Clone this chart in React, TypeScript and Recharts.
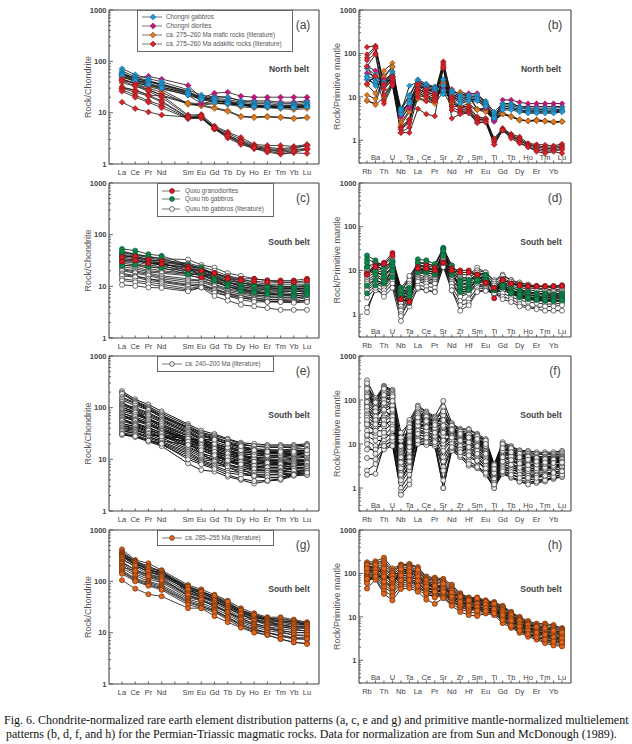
import React from "react";
import { LineChart, Line, XAxis, YAxis } from "recharts";

// ---------- categories ----------
const reeCategories = ["La","Ce","Pr","Nd","Pm","Sm","Eu","Gd","Tb","Dy","Ho","Er","Tm","Yb","Lu"];
const reeElements = ["La","Ce","Pr","Nd","Sm","Eu","Gd","Tb","Dy","Ho","Er","Tm","Yb","Lu"];
const multiElements = ["Rb","Ba","Th","U","Nb","Ta","La","Ce","Pr","Sr","Nd","Zr","Hf","Sm","Eu","Ti","Gd","Tb","Dy","Ho","Er","Tm","Yb","Lu"];
const reeAxisLabel = "Rock/Chondrite";
const multiAxisLabel = "Rock/Primitive mantle";
const reeTicks = [1,2,3,4,5,6,7,8,9,10,20,30,40,50,60,70,80,90,100,200,300,400,500,600,700,800,900,1000];
const multiTicks = [0.3,0.4,0.5,0.6,0.7,0.8,0.9,...reeTicks];
const decades = [1,10,100,1000];

// ---------- panel (a) ----------
const aMafic = [
  [50,40,32,28,15,14,12.5,11,8.5,8.3,8.5,8.2,7.8,8.1],
  [46,37,30,25,14.5,13.5,12,10.5,8.3,8,8.2,8,7.6,8],
  [38,33,28,22,15.5,15,15.5,14.5,13,12.5,12.5,12,11.5,12],
  [30,28,22,21,15,14,15,15,14,13.5,13,13,12,13],
];
const aDiorites = [
  [55,48,51,45,34,19,24,25,21,20,20,20,20,20],
  [50,42,40,36,26,17,21,20,17,17,17,16,16,17],
  [42,38,34,29,22,15,17,16,14,13,13,13,13,14],
];
const aGabbros = [
  [72,55,46,40,28,22,20,20,17,16,16,15,15,16],
  [65,50,42,36,26,20,19,18,16,15,15,14,14,15],
  [60,47,40,34,24,19,18,17,15,14,14,13.5,14,14],
  [58,46,41,35,25,19,17,16,15,14,13,13,13,13],
  [56,44,37,32,23,18,17,16,14.5,14,13.5,13,13,14],
  [54,43,36,31,24,20,18,15,14,13.5,13,12.5,13,13.5],
  [52,41,35,30,22,18,16,15,14,13,13,12.5,12.5,13],
];
const aAdakitic = [
  [45,36,28,22,9,9.2,5.5,4.2,3.3,2.4,2.3,2.3,2.2,2.4],
  [42,33,26,20,8.5,8.8,5.2,4,3,2.3,2.1,2,2.1,2.3],
  [32,27,22,17,8,8.2,5,3.7,2.8,2.2,2,1.9,2,2.3],
  [30,25,21,16,8,8,4.8,3.5,2.6,2.1,1.9,1.8,1.9,2],
  [28,22,17,14,7.8,8,4.8,3.4,2.5,2,1.8,1.6,1.7,1.9],
  [26,20,16,12.5,7.6,7.8,4.8,3.2,2.4,2,1.7,1.55,1.65,1.6],
  [16,12,10.3,9,8.2,8.5,5,3.6,2.7,2.1,1.9,1.7,1.8,2],
];

// ---------- panel (b) ----------
const bMafic = [
  [19,12,40,60,3.5,8,14,11,9,22,9,13,11.5,5.2,5.5,3.2,4.2,3.6,3,2.8,3,2.8,2.6,2.7],
  [11,9,30,50,3,6,12,10,8,20,8,12,10,5.2,5,3,4.2,3.5,2.9,2.8,2.9,2.8,2.6,2.7],
  [8,7,28,48,2.5,5,11,9.5,7.5,18,7,6,7,5,5,2.8,4,3.5,2.9,2.8,2.8,2.7,2.6,2.7],
  [8.5,6.5,10,20,2.2,4.5,9,8,7,13,6,6,6,5,4.5,3,4,3.5,3,2.8,2.8,2.8,2.7,2.7],
];
const bDiorites = [
  [50,40,25,30,4.5,7,22,18,17,17,15,11,12,12,7,3,8.5,8.5,7.5,7,7,7,7,7],
  [35,30,20,25,4,6,18,15,14,14,12,9,10,10,6,2.8,7,7,6,6,6,6,6,6],
  [25,25,18,22,3.5,5.5,15,13,11.5,15,10,8,9,8.5,5.5,2.7,5.2,5.5,4.8,4.5,4.5,4.5,4.5,4.6],
];
const bGabbros = [
  [45,32,22,38,5.5,11,25,20,17,25,14,11,11,11,8,4.5,7,7,6,5.5,5.5,5.5,5.5,5.7],
  [30,25,20,35,5,10,24,18,16,18,13,10,10,10,7.5,4,6.5,6.5,5.5,5.2,5.2,5,5,5.2],
  [25,20,18,30,4.5,18,22,17,15,12,12,9,9,9,7,3.5,6,6,5,4.8,4.8,4.7,4.7,5],
  [50,22,17,28,4,8,20,16,14,14,11,8,8,9,6.5,3.5,5.5,5.5,5,4.5,4.5,4.5,4.5,4.6],
  [28,18,22,25,5,7,18,15,13,11.5,10,7,8,8,6,3.2,5,5,4.5,4.2,4.2,4.2,4.2,4.5],
];
const bAdakitic = [
  [140,150,20,30,2,3,20,15,12,65,10,5.5,6,3.5,3.2,1.1,1.9,1.4,1.2,0.85,0.8,0.78,0.75,0.82],
  [95,140,18,28,2,3,18,13,11,60,9,5,5.5,3.2,3,1,1.8,1.3,1.1,0.8,0.75,0.7,0.7,0.75],
  [80,130,15,25,1.8,2.8,15,12,10,55,8,5,5,3,3,1,1.8,1.3,1,0.8,0.7,0.65,0.65,0.7],
  [70,100,11,22,1.8,2.5,13,10,9,50,6,4.5,4.8,2.8,2.8,0.9,1.7,1.2,1,0.75,0.65,0.6,0.6,0.65],
  [50,95,8,20,1.5,2,10,8,8,45,5,4.2,4.5,2.6,2.6,0.8,1.7,1.2,0.9,0.7,0.6,0.55,0.58,0.6],
  [20,30,7,18,1.5,1.5,5.3,4,3.6,48,3.2,4,4.2,2.5,2.6,0.8,1.7,1.1,0.85,0.7,0.55,0.5,0.55,0.5],
];

// ---------- panel (c) ----------
const cLiterature = [
  [48,42,38,34,33,26,23,18,16,14,13,12,12,12],
  [45,40,36,32,28,24,20,16,14,12,11,11,11,11],
  [42,38,33,30,27,21,18,14,12,10.5,10,9.5,9.5,10],
  [40,36,32,28,26,22,18,15,13,11,10,10,10,10.5],
  [37,34,29,27,23,19,15,12,11,9.5,9,9,9,9],
  [35,32,28,26,24,20,16,13,12,10,9.5,9,9,9.5],
  [32,30,26,24,21,18,15,12,10,9,8.8,8.2,8,8.5],
  [30,28,24,22,20,17,14,12,10,9,8.5,8.5,8.5,9],
  [28,26,22,20,18,16,13,11,9,8,7.5,7.5,8,8],
  [26,24,20,19,17,14,12,10,8.5,7.8,7.2,7,7.2,7.5],
  [24,22,19,18,16,15,12,10,8.5,7.5,7,7,7,7.5],
  [22,20,18,16,14,13,11,9,8,7,6.5,6.5,6.5,7],
  [21,19,17,15,13,13,10.5,8.5,7.5,6.8,6.4,6,6,6.2],
  [20,18,16,14,12,12,10,8,7,6.5,6,6,6,6.5],
  [18,16,14,13,11,11,9,7.5,6.5,6,5.5,5.5,5.5,6],
  [17,15.5,14,12.5,10.5,10,8.8,7.2,6.4,5.8,5.6,5.4,5.2,5.4],
  [16,15,13,12,10,11,8.5,7,6,5.5,5.2,5,5,5.5],
  [14,13,12,11,9,10,8,6.5,6,5.5,5,5,5,5],
  [13,12,11,10,8.5,9.5,7.5,6.5,5.5,5,5,5,4.8,5],
  [10.7,10.2,9.5,9.3,8,9.5,6.5,5.3,4.4,4.1,3.8,3.5,3.5,3.5],
];
const cGabbros = [
  [53,49,42,39,26,23,17,13,11.5,11,10.5,10,10,10],
  [46,42,37,35,24,22,16,12,10.5,10,9.5,9,9,9],
  [40,36,30,28,20,20,14,11,9.5,8.5,8,8,8,8],
  [33,32,28,26,18,18,13,10,9,8,7.5,7,7,7.5],
  [25,26,24,23,17,17,13,10,8,7.5,7,6.8,6.5,6.8],
];
const cGranodiorites = [
  [37,38,33,31,24,15,18,15,14,14,13,13,13,14],
  [30,32,28,27,22,20,18,14,13,12.5,12,12,12,13],
];

// ---------- panel (d) ----------
const dLiterature = [
  [12,15,13,20,4,7,15,14,13,30,13,8,8,11.5,9,6,8,6,5.3,4.8,4.4,4.2,4,4.2],
  [11,9,8,12,2.5,2.5,10,9,8,15,8,5,5,9,8,4,5,4,3.5,3,3,2.8,2.7,2.8],
  [10,12,11,17,3.5,6,14,12,10,26,11,7,6.5,10,9,5.5,7.5,6,4.8,4.4,4,3.8,3.6,3.8],
  [9,11,10,16,3,7.5,13,12,10,22,10,6.5,7,9,8,5,6.5,5.5,4.5,4,3.8,3.6,3.5,3.6],
  [8,10,9,15,2.8,5,11,10,9,25,9,6,6,8,7,4.5,6,5,4.2,3.6,3.4,3.2,3.2,3.3],
  [7,9,7.5,11,2.2,4.5,9,8,7,20,7,5,5.2,7,6.5,4,5.5,4.5,3.8,3.2,3,2.9,2.9,3],
  [6,8,6.5,10,2,4,8,7,6.5,18,6,4,4.5,6,5.5,3.5,4.5,3.6,3,2.8,2.6,2.5,2.5,2.6],
  [5.5,7,6,9,1.8,3.5,7,6.5,6,17,6,3.5,4,5.5,5,3.3,4.2,3.4,2.9,2.5,2.4,2.4,2.3,2.4],
  [5,6,5,8,1.5,3,6.5,6,5.5,16,5.5,3,3.5,5,4.5,3,4,3.2,2.7,2.4,2.3,2.2,2.2,2.3],
  [4,5.5,4.5,7.5,1.3,2.8,6,5.5,5,15,5,2.8,3.2,4.8,4.2,3,3.8,3,2.5,2.3,2.1,2.1,2,2.1],
  [3.5,5,4,7,1.2,2.5,5.5,5,5,14,5,2.5,3,4.5,4,3,3.5,2.9,2.4,2.2,2,2,1.9,2],
  [2.4,4,3.5,6,1,2.2,4.5,4.3,4,14,4.2,2,2.2,4,3.8,2.8,3,2.5,2.1,1.9,1.8,1.7,1.7,1.8],
  [1.4,3.5,3,5,0.9,2,3.8,3.5,3.3,13,3.5,1.6,1.8,3.5,3.5,3,2.5,2.2,1.7,1.5,1.4,1.5,1.5,1.6],
  [1.1,4,2.5,4,0.7,1.5,4,3.5,3.2,12,3.5,1.2,1.6,3.2,3.4,3,2.2,1.9,1.5,1.4,1.3,1.2,1.2,1.2],
];
const dGabbros = [
  [22,17,12,16,4,4,18,17,14,33,13,6,6,8,8,4,5.5,4,3.5,3.3,3,3,2.8,3],
  [18,15,9,14,3.5,3.5,15,15,12,32,10,5.5,6,7,7,3.5,5,3.5,3.2,3,2.8,2.7,2.6,2.8],
  [15,10,7,12,3,3,12,12,10,25,9,4.5,5,6,6,3.5,4.5,3.2,3,2.8,2.5,2.4,2.4,2.5],
  [12,8,5.2,10,2.5,2.5,10,10,9,22,8,4,4.2,5.5,5.5,3.8,4.2,3,2.6,2.5,2.3,2.2,2.2,2.3],
  [4.5,6,5,10,3,1.8,9,9,8,30,9,3.5,3.8,6,7.5,4,4,3.2,2.4,2.2,2.1,2,2,2.1],
  [3,4.5,5.5,7,3.5,3,11,10,9,28,11,3.2,3.5,6,6,4,4.5,3,2.8,2.4,2.2,2.1,2,2.1],
];
const dGranodiorites = [
  [8.5,13,15,25,2.2,2,12,13,11.5,15,11,10,10,8,5.2,2.3,6.2,5,4.8,4.5,4.4,4.4,4.4,4.6],
  [8,12,14,22,2.2,1.9,11,11,10,15,10,9,9,8,5.2,4,6,5,4.5,4.3,4.3,4.3,4.3,4.4],
];

// ---------- panel (e) ----------
const eLiterature = [
  [210,145,115,85,48,36,31,25,21,20,19,19,19,20],
  [195,135,105,78,45,33,29,24,20,18,18,18,18,19],
  [185,130,100,72,42,32,27,22,19,18,17,17,17,18],
  [160,125,95,70,40,30,26,21,18,16,15.5,15,16,16],
  [150,120,92,66,41,29,25,19,16,15,14,14,14.5,15],
  [140,110,90,65,38,28,24,20,17,15,15,15,15,15],
  [130,88,60,42,21,13,11,8,6.5,5,5,5.2,5.5,6.5],
  [120,100,80,60,36,26,22,18,15,14,13.5,13.5,14,14],
  [115,95,76,58,33,24,19,15,12,11,10.5,11,12,13],
  [110,90,72,55,34,25,20,17,14,13,13,13,13,14],
  [105,78,60,47,28,20,15,12,10,8.5,8,8,8.5,9.5],
  [100,85,68,52,32,24,20,16,14,13,12,12,12.5,13],
  [95,75,58,44,25,17,13,10,8,7,6.8,7,7.5,8],
  [90,80,62,48,30,22,18,15,13,12,11.5,11.5,12,12],
  [85,72,58,44,28,20,17,14,12,11,11,11,11,11.5],
  [80,62,50,38,22,15,12,9,7.5,6,6,6,6.5,7],
  [78,66,54,40,26,19,16,13,11.5,10.5,10,10,10.5,11],
  [75,52,38,30,17,13,9,7,5.5,4.6,4.4,4.4,5.4,5.8],
  [72,60,50,38,24,18,15,12,11,10,9.5,9.5,10,10],
  [68,58,48,36,26,21,18,15,13,12,12,12,12.5,13],
  [66,55,46,35,22,17,14,12,10,9.5,9,9,9.5,9.5],
  [64,44,33,27,22,21,17,14,12,10,9,8.5,8,8.2],
  [60,50,42,32,20,16,13,11,9.5,9,8.5,8.5,9,9],
  [58,48,40,33,27,22,20,17,15,14,14,13,13,13],
  [55,46,38,30,19,15,12,10,9,8.5,8,8,8.5,8.5],
  [50,42,35,28,18,13,11,9.5,8.5,8,7.5,7.5,8,8],
  [48,44,36,31,24,19,16,13,11,9,8.6,8,8,8.5],
  [46,40,32,26,16,12,10,9,8,7.5,7,7,7.5,7.5],
  [45,38,30,28,25,24,24,20,18,15,14,14,14,15],
  [42,37,30,24,15,11,9.5,8,7,6.5,6.5,6.5,7,7],
  [40,36,31,27,22,17,14,11,9,7.5,7,6.8,6.6,7],
  [38,34,28,22,14,10,9,7.5,6.5,6,6,6,6.5,6.5],
  [36,32,27,23,19,15,12,9.5,8,6.5,6,5.8,5.8,6],
  [35,32,26,21,13,9.5,8,7,6,5.5,5.5,5.5,6,6],
  [32,30,24,20,12,9,7.5,6,5.5,5,5,5,5.2,5.5],
  [30,28,23,19,11,8.5,7,5.5,5,4.8,4.5,4.5,5,5],
  [30,27,22,18,8.3,6.2,5.8,4.6,4,3.4,3.8,4,4.8,5],
  [31,28,23,20,10,8,6.5,5,4.2,3.8,3.9,4.2,5,5.5],
];

// ---------- panel (f) ----------
const fLiterature = [
  [280,110,210,170,12,35,75,55,42,95,30,22,22,17,13,3.5,11,9,7.2,7,6.5,6.5,6.5,7],
  [220,100,200,160,18,30,70,52,40,60,28,21,21,16,12,3.2,10,8.5,7,6.5,6,6,6,6.5],
  [200,95,190,150,8,28,62,48,38,50,26,20,18,15,11,3,9,8,6.5,6,5.8,5.8,5.6,6],
  [160,85,170,140,7,24,55,45,35,40,24,18,17,14,10,2.8,8.5,7.5,6,5.5,5.2,5.2,5.2,5.5],
  [145,78,150,125,6.5,21,50,42,33,36,23,17,16,13.5,9.5,2.7,8,7,5.6,5.2,5,5,5,5.2],
  [130,70,120,130,6,20,48,40,32,32,22,16,15,13,9,2.6,8,7,5.5,5,4.8,4.8,4.8,5],
  [115,65,105,115,5.5,19,45,38,30,28,21,15.5,14.5,12.5,8.5,2.5,7.5,6.5,5.2,4.8,4.6,4.6,4.6,4.8],
  [100,60,95,110,5,18,42,36,28,25,20,15,14,12,8,2.4,7,6,5,4.5,4.4,4.4,4.5,4.6],
  [90,56,80,100,4.8,16,40,34,27,22,19,14.5,13.5,11.5,7.5,2.3,6.8,5.8,4.8,4.4,4.2,4.2,4.3,4.4],
  [80,52,70,90,4.5,15,38,32,26,20,18,14,13,11,7,2.2,6.5,5.5,4.5,4.2,4,4,4.2,4.2],
  [72,48,62,80,4.2,13,36,30,25,18,17,13.5,12.5,10.5,6.8,2.1,6.2,5.2,4.2,4,3.8,3.8,4,4],
  [65,45,55,70,4,12,34,28,24,16,16,13,12,10,6.5,2,6,5,4,3.8,3.6,3.7,3.8,3.8],
  [50,38,40,55,3.5,10,30,26,22,12,15,12,11,9,6,1.9,5.5,4.5,3.7,3.4,3.3,3.3,3.4,3.5],
  [45,34,36,50,3.2,9,28,25,21,11,14.5,11.5,10.5,8.5,5.8,1.85,5.2,4.2,3.5,3.2,3.1,3.1,3.2,3.4],
  [40,30,32,45,3,8,26,24,20,10,14,11,10,8,5.5,1.8,5,4,3.4,3,3,3,3.1,3.2],
  [32,25,25,38,2.8,7,24,21,18,8,13,10,9,7.5,5,1.7,4.5,3.6,3,2.8,2.7,2.7,2.8,3],
  [26,20,20,30,2.5,6,21,19,16,7,12,9,8,7,4.5,1.6,4,3.3,2.7,2.5,2.4,2.5,2.6,2.7],
  [20,15,15,25,2.2,5,18,17,15,5,11,8.5,7.5,6,4,1.5,3.6,3,2.4,2.2,2.2,2.2,2.3,2.4],
  [15,12,12,20,2,4,16,15,13,4,10,8,7,5.5,3.5,1.4,3.2,2.7,2.2,2,2,2,2.1,2.2],
  [12,9,10,15,1.6,3.5,14,13,12,3,9,7,6,5,3,1.3,2.8,2.4,2,1.8,1.8,1.8,1.9,2],
  [7.5,7.5,9,12,1.3,2.5,13,12,11,2.5,8,6,5,4,2.6,1.2,2.5,2.1,1.7,1.6,1.5,1.6,1.7,1.8],
  [4.8,4.5,8,10,1,2,11,10,10,1.5,7.5,5.5,4,3.2,2.2,1.1,2.2,1.8,1.5,1.4,1.4,1.5,1.6,1.8],
  [2.5,3.5,7.5,9,0.8,1.5,10,9.5,9,1,7,5,3.2,2.8,2,1,2.1,1.7,1.4,1.3,1.3,1.4,1.7,1.8],
  [2,2.1,9,12,0.7,1.2,12,11,10,1,8,5.5,3.5,3,2.2,1,2.3,1.8,1.4,1.2,1.4,1.5,1.8,2],
  [90,90,60,40,14,20,50,42,30,70,26,17,16,13,9,3,8,7,5.5,5,4.5,4.2,4.1,4.3],
  [240,65,150,110,9,24,45,35,24,30,15,11,10,7,4,1.5,3.5,3,2.6,2.5,2.6,2.8,3.1,3.3],
  [180,55,100,75,3.2,9,22,17,13,15,9,8,7,5,3,1.2,3,2.6,2.4,2.4,2.5,2.7,3,3.2],
  [35,18,35,22,5,11,35,30,26,45,22,19,16,15,12,3.3,10,8,6,5.2,4.8,4.5,4.4,4.5],
  [10,6,18,14,1.8,3,28,25,23,55,20,16,14,12,9,2.2,7,5.2,4,3.5,3.2,3,3,3.1],
  [120,88,180,120,2.8,7,26,20,15,24,12,9,8.5,6,4,1.4,4,3.4,2.9,2.7,2.8,2.9,3.2,3.6],
  [60,42,130,95,2.2,5,32,24,18,18,14,12,11,9,6,1.6,5,4.3,3.6,3.3,3.4,3.5,3.7,4],
  [28,35,85,60,2,4,20,16,12,35,10,7.5,6.5,4.5,3.2,1.3,2.7,2.3,2,1.9,1.9,2,2.3,2.5],
  [16,20,60,42,1.5,3,17,14,11,12,8.5,6.5,5.5,4.2,2.8,1.2,2.4,2,1.7,1.7,1.7,1.9,2.2,2.4],
  [70,28,28,35,3.8,8.5,40,33,27,26,21,17,14,13,10,2.7,8,6.5,5,4.4,4,3.8,3.7,3.8],
];

// ---------- panel (g) ----------
const gLiterature = [
  [420,260,225,165,85,70,55,42,30,24,20,20,18,16],
  [380,250,180,155,80,65,50,38,28,22,19,18,17,15.5],
  [360,245,200,150,78,64,50,37,27,23,19,17,16,15],
  [350,240,190,160,60,50,40,32,25,20,19,19,17,14],
  [340,235,170,145,75,60,48,36,26,21,18,17,16,15],
  [330,225,165,150,70,60,46,34,26,20,18,16,15,14],
  [320,220,165,140,72,58,46,35,25,20,17,16,15,14.5],
  [310,225,175,135,78,62,52,40,27,22,17,14,13,12.5],
  [305,205,155,135,66,52,42,31,23,18,16,14,13,13],
  [300,210,150,130,68,55,44,33,24,19,16,15,14,14],
  [280,190,140,120,62,50,40,30,22,18,15,14,13,13],
  [260,200,155,125,70,52,42,30,23,17,15,13,12,10.5],
  [240,170,130,110,58,48,38,28,20,17,14,13,12,12],
  [230,165,135,115,52,42,34,25,19,15,13,11,10,10],
  [220,150,120,100,52,45,35,26,19,15,13,12,11,11],
  [200,140,110,95,48,42,33,24,17,14,12,11,10,10],
  [190,160,125,105,55,44,32,25,18,14,12,10.5,9,8.5],
  [180,130,100,85,45,38,30,22,16,13,11,10,9,9],
  [165,115,95,80,42,35,28,20,15,12,10,9,8,8],
  [155,110,90,75,40,33,26,19,14,11.5,10,8.8,7.8,7.4],
  [150,105,85,72,38,32,27,20,14,11,10,8.5,7.5,7.5],
  [140,100,82,68,35,30,25,18,13,10.5,9,7.5,6.5,6.2],
  [105,72,56,51,30,30,21,16,12.5,10,9,7.5,6.5,6],
];

// ---------- panel (h) ----------
const hLiterature = [
  [180,190,230,130,160,165,140,85,80,75,55,35,28,28,24,22,18,13,10,8,7,7,6.5,5.5],
  [165,175,200,115,155,160,130,80,75,70,50,33,27,26,23,21,17,12.5,9.5,7.5,6.5,6.5,6,5.3],
  [150,165,180,105,150,150,115,75,70,65,45,32,26,25,22,20,16,12,9,7,6.2,6,5.5,5],
  [140,150,160,95,130,140,105,70,65,60,42,30,25,24,21,19,15,11,8.5,6.8,6,5.6,5.2,4.8],
  [125,140,140,85,115,125,95,65,60,55,38,28,24,23,20,18,14,10.5,8,6.4,5.6,5.2,4.8,4.5],
  [115,130,120,78,105,115,88,60,55,50,35,27,23,22,19,17,13,10,7.5,6,5.2,4.9,4.5,4.2],
  [105,120,105,70,95,105,80,55,50,46,33,25,22,21,18,16,12,9.5,7,5.6,5,4.6,4.2,4],
  [100,110,90,62,85,95,75,52,46,42,30,24,20,20,17,15,11.5,9,6.6,5.3,4.7,4.3,3.9,3.7],
  [95,100,80,55,78,85,70,48,42,40,28,23,19,18,16,14.5,11,8.5,6.2,5,4.5,4,3.6,3.4],
  [90,95,70,50,72,78,62,45,40,36,26,21,18,17,15,14,10.5,8,5.8,4.7,4.2,3.7,3.3,3.1],
  [85,90,62,45,65,72,56,42,36,33,25,20,17,16,14.5,13.5,10,7.5,5.5,4.5,4,3.4,3,2.9],
  [80,85,55,40,60,65,50,40,34,32,23,18,16,15,14,13,9.5,7,5.2,4.2,3.7,3.1,2.8,2.7],
  [72,80,48,36,55,58,46,36,32,30,22,17,15,14,13,12.5,9,6.5,5,4,3.5,2.9,2.6,2.5],
  [70,75,40,30,50,52,42,32,30,28,20,15,13,12,12.5,12,8,6,4.6,3.8,3.2,2.7,2.4,2.3],
  [45,72,34,24,44,46,38,25,20,27,18,13,11,10.5,12,11,7.2,5.6,4.3,3.5,3,2.5,2.2,2.1],
  [120,155,110,60,120,130,100,60,44,35,24,17,14,15,15,14,10,8,6.3,5.4,5,4.8,4.2,3.8],
  [155,120,75,100,100,78,60,40,36,45,32,22,20,19,18,17,13,9.8,7.4,5.8,4.7,3.6,3.1,2.8],
  [60,100,130,90,140,100,120,70,48,52,40,26,22,27,22,20,14,11,8.2,6.6,5.9,5.5,4.8,4.4],
  [110,125,95,68,90,110,85,58,52,44,36,29,24,20,19,16,12.5,9.2,6.8,5.5,4.6,4.1,3.5,3],
  [130,105,65,48,125,90,68,50,38,38,27,19,16,17,16,15,11,8.2,6,4.8,4.3,3.9,3.4,3.2],
  [75,85,85,75,70,70,52,35,28,58,29,22,18,14,13.5,12,8.5,6.3,4.8,4,3.4,3,2.7,2.6],
];

// ---------- legends and notes ----------
const aLegendNames = ["Chongni gabbros","Chongni diorites","ca. 275–260 Ma mafic rocks (literature)","ca. 275–260 Ma adakitic rocks (literature)"];
const cLegendNames = ["Quxu granodiorites","Quxu hb gabbros","Quxu hb gabbros (literature)"];
const eLegendNames = ["ca. 240–200 Ma (literature)"];
const gLegendNames = ["ca. 285–255 Ma (literature)"];
const caption1 = "Fig. 6. Chondrite-normalized rare earth element distribution patterns (a, c, e and g) and primitive mantle-normalized multielement";
const caption2 = "patterns (b, d, f, and h) for the Permian-Triassic magmatic rocks. Data for normalization are from Sun and McDonough (1989).";

// ---------- styles ----------
const SANS = "'Liberation Sans', Arial, sans-serif";
const AXIS = "#444444";
const BLUE = { fill: "#1f9bd7", stroke: "#17607f", shape: "diamond" };
const MAGENTA = { fill: "#c9157c", stroke: "#7d1150", shape: "diamond" };
const AMBER = { fill: "#e07a1f", stroke: "#7a4412", shape: "diamond" };
const RED = { fill: "#d8232a", stroke: "#7c1518", shape: "diamond" };
const CRIMSON = { fill: "#e2171f", stroke: "#6a0f12", shape: "circle" };
const GREEN = { fill: "#0c8a4a", stroke: "#0b5a33", shape: "circle" };
const WHITE = { fill: "#ffffff", stroke: "#333333", shape: "circle" };
const PALE = { fill: "#ececec", stroke: "#3a3a3a", shape: "circle" };
const ORANGE = { fill: "#e5631a", stroke: "#6a3310", shape: "circle" };

type Look = { fill: string; stroke: string; shape: string };
type Group = { rows: number[][]; look: Look };

function buildTable(cats: string[], elements: string[], groups: Group[]) {
  const flat = groups.flatMap((g) => g.rows);
  return cats.map((c) => {
    const row: Record<string, any> = { el: c };
    const i = elements.indexOf(c);
    if (i >= 0) flat.forEach((vals, k) => { row[`s${k}`] = vals[i]; });
    return row;
  });
}

function Marker({ cx, cy, look, r }: any) {
  if (cx == null || cy == null) return <g />;
  if (look.shape === "diamond") {
    const d = r + 0.6;
    return <path d={`M${cx} ${cy - d}L${cx + d} ${cy}L${cx} ${cy + d}L${cx - d} ${cy}Z`} fill={look.fill} stroke={look.stroke} strokeWidth={0.5} />;
  }
  return <circle cx={cx} cy={cy} r={r} fill={look.fill} stroke={look.stroke} strokeWidth={0.7} />;
}

const LEFT_PAD = 40, TOP_PAD = 4, RIGHT_PAD = 4, BOTTOM_PAD = 18;

function Panel({ box, kind, groups, r, lineW }: any) {
  const ree = kind === "ree";
  const cats = ree ? reeCategories : multiElements;
  const elements = ree ? reeElements : multiElements;
  const data = buildTable(cats, elements, groups);
  const w = box.right - box.left, h = box.bottom - box.top;
  const pad = ree ? { left: 13, right: 12 } : { left: 8, right: 9 };
  let k = 0;
  const lines: any[] = [];
  groups.forEach((g: Group) => {
    g.rows.forEach(() => {
      const key = `s${k++}`;
      lines.push(
        <Line key={key} dataKey={key} stroke="#111" strokeWidth={lineW} connectNulls isAnimationActive={false}
          legendType="none"
          dot={(p: any) => <Marker key={`${key}-${p.index}`} cx={p.cx} cy={p.cy} look={g.look} r={r} />} />
      );
    });
  });
  const xTick = ({ x, y, index, payload }: any) => {
    const label = payload.value === "Pm" ? "" : payload.value;
    const upper = !ree && index % 2 === 1;
    return (
      <g>
        <line x1={x} x2={x} y1={y} y2={y - 2.5} stroke={AXIS} strokeWidth={0.8} />
        <text x={x} y={ree ? y + 10.5 : upper ? y - 3 : y + 10.5} textAnchor="middle" fontSize={7.5} fontFamily={SANS} fill="#444">{label}</text>
      </g>
    );
  };
  const yTick = ({ x, y, payload }: any) => {
    const major = decades.includes(payload.value);
    return (
      <g>
        <line x1={x} x2={x + (major ? 4 : 2)} y1={y} y2={y} stroke={AXIS} strokeWidth={0.8} />
        {major && <text x={x - 2.5} y={y + 2.7} textAnchor="end" fontSize={7.5} fontWeight={700} fontFamily={SANS} fill="#444">{payload.value}</text>}
      </g>
    );
  };
  return (
    <div style={{ position: "absolute", left: box.left - LEFT_PAD, top: box.top - TOP_PAD }}>
      <LineChart width={w + LEFT_PAD + RIGHT_PAD} height={h + TOP_PAD + BOTTOM_PAD} data={data}
        margin={{ top: TOP_PAD - 1, right: RIGHT_PAD - 1, bottom: BOTTOM_PAD - 1, left: 0 }}>
        <XAxis dataKey="el" height={1} interval={0} padding={pad} tickSize={0} tickMargin={0} tickLine={false}
          tick={xTick} stroke={AXIS} strokeWidth={1.1} />
        <XAxis xAxisId="top" orientation="top" dataKey="el" height={1} tick={false} tickLine={false} stroke={AXIS} strokeWidth={1.1} />
        <YAxis width={LEFT_PAD} scale="log" type="number" domain={ree ? [1, 1000] : [0.3, 1000]} allowDataOverflow
          ticks={ree ? reeTicks : multiTicks} interval={0} tickSize={0} tickMargin={0} tickLine={false} tick={yTick} stroke={AXIS} strokeWidth={1.1}
          label={{ value: ree ? reeAxisLabel : multiAxisLabel, angle: -90, position: "center", dx: ree ? -1 : -2, style: { fontSize: 9, fontFamily: SANS, fill: "#555", textAnchor: "middle" } }} />
        <YAxis yAxisId="right" orientation="right" width={1} scale="log" type="number" domain={[1, 1000]} tick={false} tickLine={false} stroke={AXIS} strokeWidth={1.1} />
        {lines}
      </LineChart>
    </div>
  );
}

function LegendBox({ box, names, looks, rowYs, line, textX }: any) {
  return (
    <svg style={{ position: "absolute", left: box.left, top: box.top }} width={box.width} height={box.height}>
      <rect x={0.5} y={0.5} width={box.width - 1} height={box.height - 1} fill="#fff" stroke="#666" strokeWidth={1} />
      {names.map((n: string, i: number) => (
        <g key={n}>
          <line x1={line[0]} x2={line[1]} y1={rowYs[i]} y2={rowYs[i]} stroke="#555" strokeWidth={0.8} />
          <Marker cx={line[2]} cy={rowYs[i]} look={looks[i]} r={2.4} />
          <text x={textX} y={rowYs[i] + 2.2} fontSize={6.3} fontFamily={SANS} fill="#555">{n}</text>
        </g>
      ))}
    </svg>
  );
}

function Note({ x, y, size, bold, color, children }: any) {
  return (
    <div style={{ position: "absolute", left: x, top: y, transform: "translate(-50%,-50%)", fontFamily: SANS, fontSize: size, fontWeight: bold ? 700 : 400, color, lineHeight: 1, whiteSpace: "nowrap" }}>{children}</div>
  );
}

const panels = [
  { id: "(a)", belt: "North belt", kind: "ree", r: 2.4, lineW: 0.8, box: { left: 109, right: 319, top: 10, bottom: 164 }, groups: [{ rows: aMafic, look: AMBER }, { rows: aDiorites, look: MAGENTA }, { rows: aGabbros, look: BLUE }, { rows: aAdakitic, look: RED }] },
  { id: "(b)", belt: "North belt", kind: "multi", r: 2.2, lineW: 0.9, box: { left: 359, right: 571, top: 10, bottom: 163 }, groups: [{ rows: bMafic, look: AMBER }, { rows: bDiorites, look: MAGENTA }, { rows: bGabbros, look: BLUE }, { rows: bAdakitic, look: RED }] },
  { id: "(c)", belt: "South belt", kind: "ree", r: 2.5, lineW: 0.8, box: { left: 109, right: 319, top: 183, bottom: 338 }, groups: [{ rows: cLiterature, look: WHITE }, { rows: cGabbros, look: GREEN }, { rows: cGranodiorites, look: CRIMSON }] },
  { id: "(d)", belt: "South belt", kind: "multi", r: 2.5, lineW: 0.9, box: { left: 359, right: 571, top: 183, bottom: 337 }, groups: [{ rows: dLiterature, look: WHITE }, { rows: dGabbros, look: GREEN }, { rows: dGranodiorites, look: CRIMSON }] },
  { id: "(e)", belt: "South belt", kind: "ree", r: 2.5, lineW: 1, box: { left: 109, right: 319, top: 356, bottom: 511 }, groups: [{ rows: eLiterature, look: PALE }] },
  { id: "(f)", belt: "South belt", kind: "multi", r: 2.5, lineW: 1, box: { left: 359, right: 571, top: 356, bottom: 511 }, groups: [{ rows: fLiterature, look: PALE }] },
  { id: "(g)", belt: "South belt", kind: "ree", r: 2.5, lineW: 0.8, box: { left: 109, right: 319, top: 530, bottom: 684 }, groups: [{ rows: gLiterature, look: ORANGE }] },
  { id: "(h)", belt: "South belt", kind: "multi", r: 2.6, lineW: 0.9, box: { left: 359, right: 571, top: 530, bottom: 683 }, groups: [{ rows: hLiterature, look: ORANGE }] },
];

const legends = [
  { box: { left: 137, top: 10, width: 156, height: 42 }, names: aLegendNames, looks: [BLUE, MAGENTA, AMBER, RED], rowYs: [7, 16, 25, 34], line: [5, 25, 16], textX: 29 },
  { box: { left: 157, top: 183, width: 117, height: 34 }, names: cLegendNames, looks: [CRIMSON, GREEN, WHITE], rowYs: [8, 16, 26], line: [5, 23, 15], textX: 28 },
  { box: { left: 157, top: 356, width: 117, height: 16 }, names: eLegendNames, looks: [PALE], rowYs: [8], line: [5, 25, 15], textX: 28 },
  { box: { left: 157, top: 530, width: 117, height: 16 }, names: gLegendNames, looks: [ORANGE], rowYs: [8], line: [5, 25, 15], textX: 28 },
];

export default function App() {
  return (
    <div style={{ position: "absolute", left: 0, top: 0, width: 632, height: 744, background: "#fff", overflow: "hidden" }}>
      {panels.map((p) => <Panel key={p.id} {...p} />)}
      {legends.map((l, i) => <LegendBox key={i} {...l} />)}
      {panels.map((p) => {
        const idX = p.box.right - 16;
        return (
          <React.Fragment key={p.id}>
            <Note x={idX} y={p.box.top + 15} size={12} color="#444">{p.id}</Note>
            <Note x={p.box.right - 30} y={p.box.top + 59} size={8.5} bold color="#444">{p.belt}</Note>
          </React.Fragment>
        );
      })}
      <div style={{ position: "absolute", left: 4, top: 713, fontFamily: "'Liberation Serif', serif", fontSize: 12, lineHeight: "14px", color: "#111", whiteSpace: "nowrap" }}>
        <div>{caption1}</div>
        <div style={{ marginLeft: 2 }}>{caption2}</div>
      </div>
    </div>
  );
}
